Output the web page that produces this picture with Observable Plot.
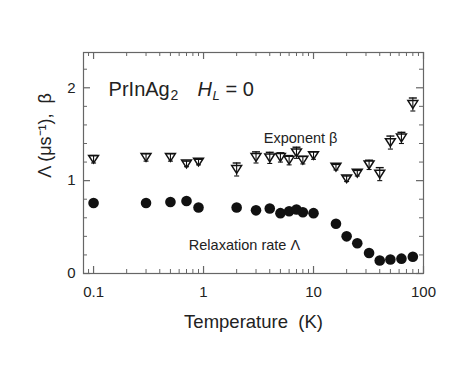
<!DOCTYPE html>
<html><head><meta charset="utf-8">
<script src="https://cdn.jsdelivr.net/npm/d3@7"></script>
<script src="https://cdn.jsdelivr.net/npm/@observablehq/plot@0.6"></script>
<style>body{margin:0;background:#fff;} #chart svg{display:block;}</style>
</head><body><div id="chart"></div>
<script>
// ---- data ----
const temperatures = [0.1,0.3,0.5,0.7,0.9,2,3,4,5,6,7,8,10,16,20,25,32,40,50,63,80];
const rateValues   = [0.76,0.76,0.77,0.78,0.71,0.71,0.68,0.70,0.65,0.67,0.69,0.66,0.65,0.535,0.40,0.325,0.22,0.14,0.15,0.16,0.18];
const betaValues   = [1.23,1.25,1.25,1.18,1.20,1.12,1.25,1.245,1.25,1.22,1.30,1.22,1.27,1.145,1.02,1.08,1.17,1.07,1.41,1.46,1.82];
const betaErrors   = [0.04,0.04,0.04,0.03,0.03,0.07,0.06,0.06,0.05,0.05,0.06,0.04,0.04,0.03,0.03,0.03,0.05,0.07,0.07,0.06,0.07];
const xTickLabels  = [0.1,1,10,100];
const xMinorTicks  = [0.09,0.2,0.3,0.4,0.5,0.6,0.7,0.8,0.9,2,3,4,5,6,7,8,9,20,30,40,50,60,70,80,90];
const yTickLabels  = [0,1,2];
const yMinorTicks  = [0.2,0.4,0.6,0.8,1.2,1.4,1.6,1.8,2.2];
const xDomain = [0.081, 100];
const yDomain = [0, 2.38];

const rateRows = temperatures.map((t,i)=>({t, v: rateValues[i]}));
const betaRows = temperatures.map((t,i)=>({t, v: betaValues[i], lo: betaValues[i]-betaErrors[i], hi: betaValues[i]+betaErrors[i]}));

// ---- layout ----
const W = 474, H = 366, mL = 83, mR = 51, mT = 52, mB = 93;
const innerW = W - mL - mR, innerH = H - mT - mB;
const FONT = "'Liberation Sans', Arial, Helvetica, sans-serif";
const INK = "#111", FRAME = "#666";

// marker shapes
const triangleDown = { draw(ctx, size){ const r = Math.sqrt(size/Math.PI); const a = r*0.95, h = r*1.5;
  ctx.moveTo(-a, -h/2); ctx.lineTo(a, -h/2); ctx.lineTo(0, h/2); ctx.closePath(); } };
const capLine = { draw(ctx, size){ const r = Math.sqrt(size/Math.PI); ctx.moveTo(-r,0); ctx.lineTo(r,0); } };

const majT = 7, minT = 4;
const plot = Plot.plot({
  width: W, height: H,
  marginLeft: mL, marginRight: mR, marginTop: mT, marginBottom: mB,
  style: {fontFamily: FONT, fontSize: "15px", color: "#222", background: "#fff"},
  x: {type: "log", domain: xDomain, axis: null},
  y: {domain: yDomain, axis: null},
  marks: [
    Plot.frame({stroke: FRAME, strokeWidth: 1.2}),
    // inward ticks on four sides
    Plot.tickX(xTickLabels, {x: d=>d, insetTop: innerH - majT, stroke: FRAME, strokeWidth: 1.2}),
    Plot.tickX(xMinorTicks, {x: d=>d, insetTop: innerH - minT, stroke: FRAME}),
    Plot.tickX(xTickLabels, {x: d=>d, insetBottom: innerH - majT, stroke: FRAME, strokeWidth: 1.2}),
    Plot.tickX(xMinorTicks, {x: d=>d, insetBottom: innerH - minT, stroke: FRAME}),
    Plot.tickY(yTickLabels, {y: d=>d, insetRight: innerW - majT, stroke: FRAME, strokeWidth: 1.2}),
    Plot.tickY(yMinorTicks, {y: d=>d, insetRight: innerW - minT, stroke: FRAME}),
    Plot.tickY(yTickLabels, {y: d=>d, insetLeft: innerW - majT, stroke: FRAME, strokeWidth: 1.2}),
    Plot.tickY(yMinorTicks, {y: d=>d, insetLeft: innerW - minT, stroke: FRAME}),
    // tick labels
    Plot.axisX({ticks: xTickLabels, tickFormat: d => String(d), tickSize: 0, tickPadding: 13, fontSize: 15, label: null, color: "#222"}),
    Plot.axisY({ticks: yTickLabels, tickFormat: d => String(d), tickSize: 0, tickPadding: 8, fontSize: 15, label: null, color: "#222"}),
    // axis titles
    Plot.text(["Temperature  (K)"], {frameAnchor: "bottom", dy: 54, lineAnchor: "bottom", fontSize: 18.5, fill: "#222"}),
    Plot.text(["Λ (μs⁻¹),  β"], {frameAnchor: "left", y: [1.03], dx: -38, rotate: -90, lineAnchor: "middle", fontSize: 18, fill: "#222"}),
    // exponent beta: error bars + open down-triangles
    Plot.ruleX(betaRows, {x: "t", y1: "lo", y2: "hi", stroke: INK, strokeWidth: 1.1}),
    Plot.dot(betaRows, {x: "t", y: "hi", symbol: capLine, r: 4, stroke: INK, strokeWidth: 1.4}),
    Plot.dot(betaRows, {x: "t", y: "lo", symbol: capLine, r: 2.5, stroke: INK, strokeWidth: 1.1}),
    Plot.dot(betaRows, {x: "t", y: "v", symbol: triangleDown, r: 5.2, stroke: INK, strokeWidth: 1.5, fill: "none"}),
    // relaxation rate: filled circles
    Plot.dot(rateRows, {x: "t", y: "v", r: 5.3, fill: INK, stroke: "none"}),
    // annotations
    Plot.text(["PrInAg"], {x: [0.137], y: [1.916], textAnchor: "start", lineAnchor: "bottom", fontSize: 20, fill: "#222"}),
    Plot.text(["2"], {x: [0.137], y: [1.916], dx: 62, dy: 4.5, textAnchor: "start", lineAnchor: "bottom", fontSize: 14, fill: "#222"}),
    Plot.text(["H"], {x: [0.137], y: [1.916], dx: 89, textAnchor: "start", lineAnchor: "bottom", fontSize: 20, fontStyle: "italic", fill: "#222"}),
    Plot.text(["L"], {x: [0.137], y: [1.916], dx: 104, dy: 4.5, textAnchor: "start", lineAnchor: "bottom", fontSize: 13, fontStyle: "italic", fill: "#222"}),
    Plot.text(["= 0"], {x: [0.137], y: [1.916], dx: 117, textAnchor: "start", lineAnchor: "bottom", fontSize: 20, fill: "#222"}),
    Plot.text(["Exponent β"], {x: [3.53], y: [1.403], textAnchor: "start", lineAnchor: "bottom", fontSize: 14.5, fill: "#222"}),
    Plot.text(["Relaxation rate Λ"], {x: [0.735], y: [0.255], textAnchor: "start", lineAnchor: "bottom", fontSize: 14.5, fill: "#222"})
  ]
});
document.getElementById("chart").append(plot);
</script>
</body></html>
